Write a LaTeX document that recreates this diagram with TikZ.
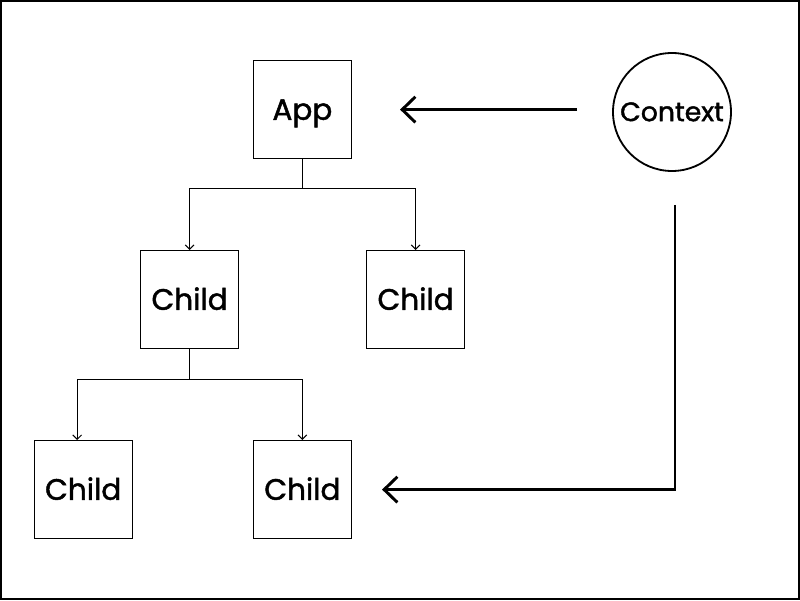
\documentclass[tikz,border=0pt]{standalone}
\usepackage{fontspec}
\setmainfont{Poppins}[RawFeature={embolden=1.5}]
\usetikzlibrary{arrows.meta,positioning}

\begin{document}
\begin{tikzpicture}[
  comp/.style={draw, line width=0.9pt, minimum size=2.45cm, inner sep=0pt, text height=14.5pt, text depth=0pt, font=\fontsize{21}{25}\selectfont},
  ctxnode/.style={draw, circle, line width=1.3pt, minimum size=2.95cm, inner sep=0pt, text height=13pt, text depth=0pt, font=\fontsize{19}{23}\selectfont},
  tree/.style={-{Straight Barb[length=1.1mm,width=2.2mm]}, line width=0.7pt},
  flow/.style={-{Straight Barb[length=3.3mm,width=6.4mm]}, line width=2.1pt}]
  % frame
  \useasboundingbox (0,0) rectangle (20,15);
  \draw[line width=1.4pt] (0.025,0.025) rectangle (19.975,14.975);
  % component tree
  \node[comp] (app) at (7.56,12.26) {App};
  \node[comp] (c1) at (4.74,7.51) {Child};
  \node[comp] (c2) at (10.39,7.51) {Child};
  \node[comp] (c3) at (2.08,2.76) {Child};
  \node[comp] (c4) at (7.56,2.76) {Child};
  % context
  \node[ctxnode] (ctx) at (16.8,12.2) {Context};
  % tree edges
  \draw[tree] (app.south) -- ++(0,-0.725) -| (c1.north);
  \draw[tree] (app.south) -- ++(0,-0.725) -| (c2.north);
  \draw[tree] (c1.south) -- ++(0,-0.75) -| ([xshift=-1.5mm]c3.north);
  \draw[tree] (c1.south) -- ++(0,-0.75) -| (c4.north);
  % context flow
  \coordinate[left=8.75mm of ctx.west] (ctxl);
  \coordinate[below=8.25mm of ctx.south, xshift=0.75mm] (ctxb);
  \draw[flow] (ctxl |- app.east) -- ([xshift=12mm]app.east);
  \draw[flow] (ctxb) |- ([xshift=7.5mm]c4.east);
\end{tikzpicture}
\end{document}
